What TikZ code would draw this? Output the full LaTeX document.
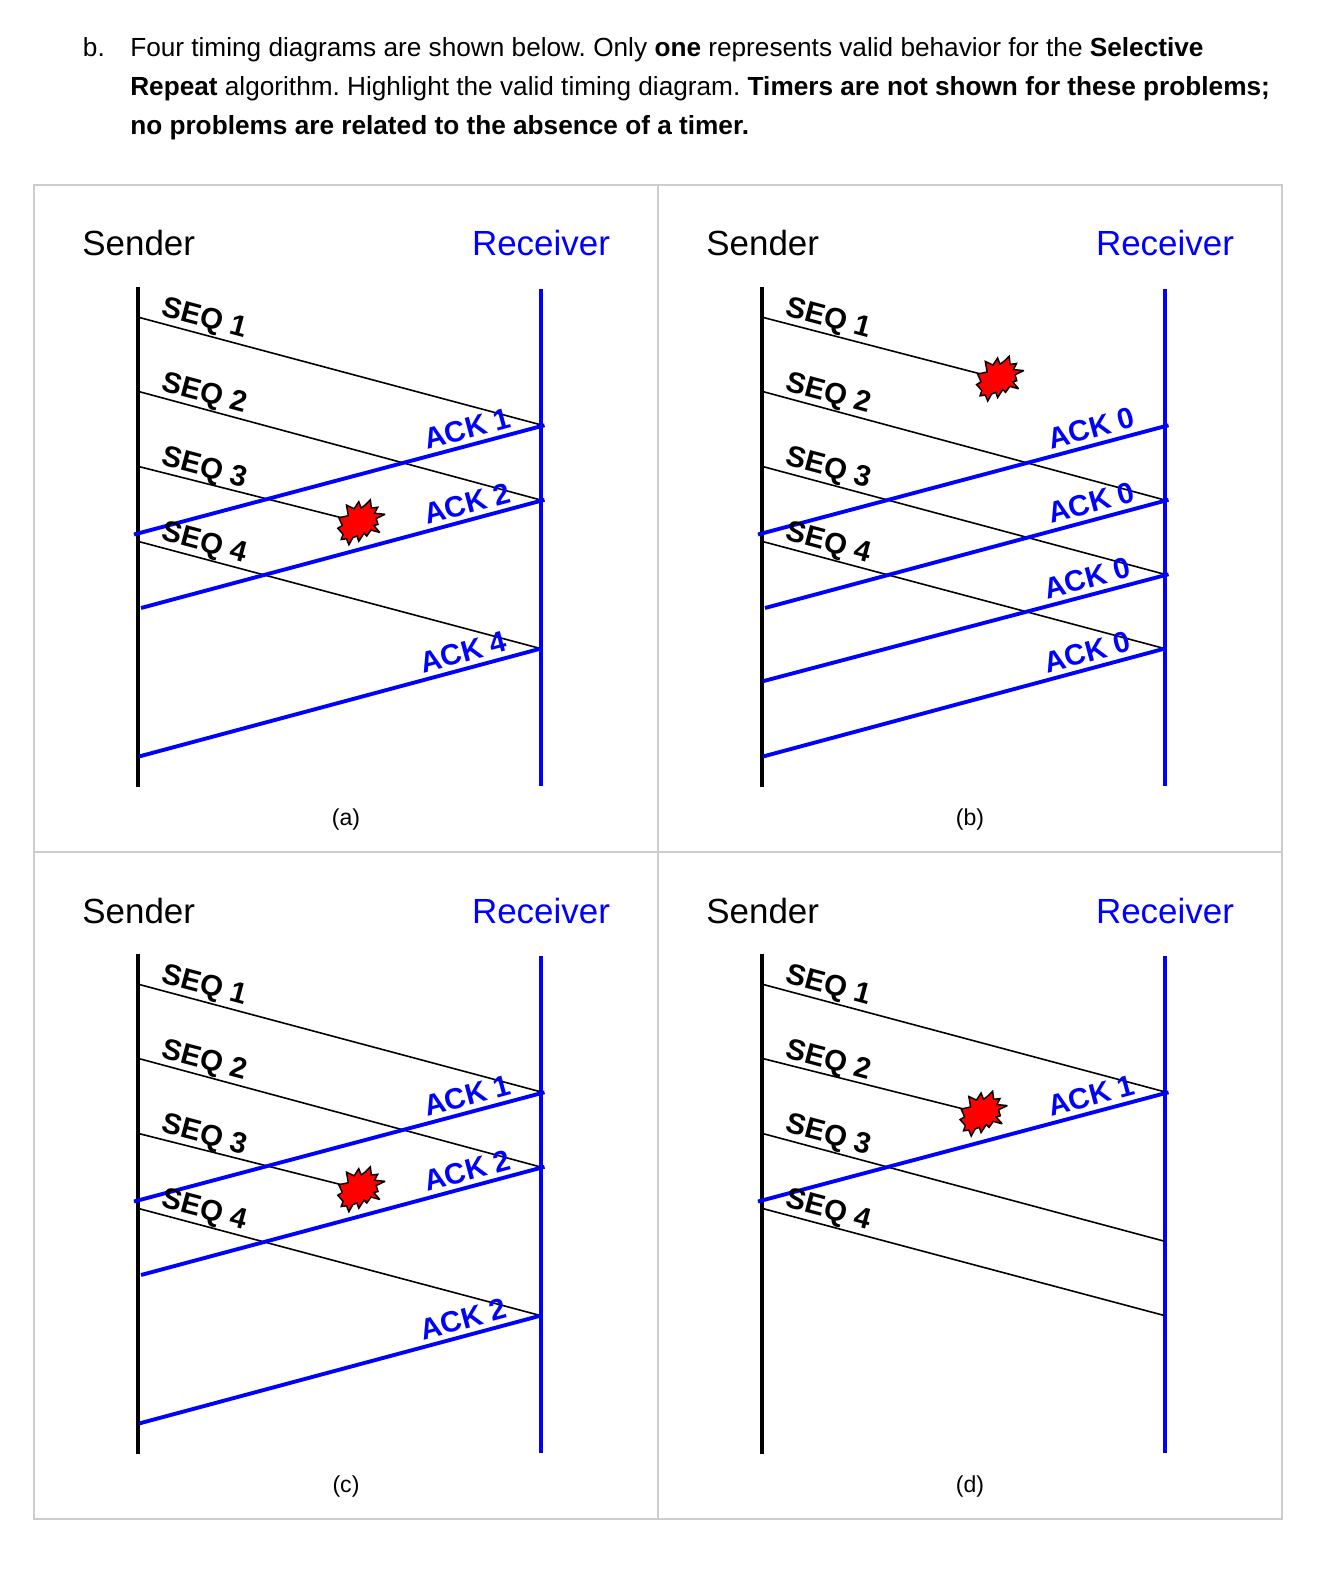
\documentclass[tikz,border=0pt]{standalone}
\usepackage{fontspec}
\setmainfont{Liberation Sans}
\usepackage{tikz}

\definecolor{framegray}{RGB}{204,204,204}
\definecolor{ackblue}{RGB}{0,0,255}
\definecolor{burstred}{RGB}{255,0,0}

\tikzset{
    sendline/.style={line width=2.7pt, black},
    recvline/.style={line width=3pt, ackblue},
    seqline/.style={line width=1.2pt, black},
    ackline/.style={line width=2.9pt, ackblue},
    seqlabel/.style={font=\bfseries\fontsize{22}{22}\selectfont, rotate=-15, inner sep=0pt},
    acklabel/.style={font=\bfseries\fontsize{22}{22}\selectfont, ackblue, rotate=15, inner sep=0pt},
    endlabel/.style={font=\fontsize{26.2}{27}\selectfont, anchor=base, inner sep=0pt},
    caption/.style={font=\fontsize{17.3}{18}\selectfont, inner sep=0pt},
    intro/.style={font=\frenchspacing\fontsize{19.65}{21}\selectfont, anchor=base west, inner sep=0pt},
    burst/.pic={
        \draw[scale=1.05, line width=1.1pt, fill=burstred, line join=miter, miter limit=3]
            (8.7,-21.7) -- (9.7,-14) -- (15.7,-14.7) -- (12.7,-9) -- (22.7,-8) -- (14.3,-4)
            -- (16,1.7) -- (12,2.7) -- (17.7,9.3) -- (9.3,7) -- (5.3,12.7) -- (2.7,10)
            -- (-2.3,17.7) -- (-4,12.7) -- (-8,14.3) -- (-11.7,21) -- (-14,15.3) -- (-19,16)
            -- (-17.3,11) -- (-22.3,5.3) -- (-18,2.7) -- (-21.3,-4.7) -- (-12.3,-6.7)
            -- (-14,-16.7) -- (-6.7,-13.3) -- (-2.3,-20) -- (0,-14) -- (4.3,-17.3) -- cycle;
    },
}

% Lifelines, titles and end points shared by all four panels
\newcommand{\panelbase}[2]{
    \node[endlabel] (#1-sender) at (138.7,256) {Sender};
    \node[endlabel, ackblue] (#1-receiver) at (541,256) {Receiver};
    \node[caption] (#1-caption) at (346,819.5) {#2};
    \coordinate (#1-stop) at (137.7,286.7);
    \coordinate (#1-sbot) at (137.7,786.7);
    \coordinate (#1-rtop) at (540.7,289.3);
    \coordinate (#1-rbot) at (540.7,785.7);
    \draw[sendline] (#1-stop) -- (#1-sbot);
    \draw[recvline] (#1-rtop) -- (#1-rbot);
    \foreach \i/\ys/\ye in {1/317.4/424.8, 2/391.6/500, 3/466.6/574.3, 4/541.6/648.6} {
        \coordinate (#1-s\i) at (139,\ys);
        \coordinate (#1-r\i) at (540.7,\ye);
    }
    \coordinate (#1-t1) at (134,534.5);
    \coordinate (#1-t2) at (141,608);
    \coordinate (#1-t3) at (139,681.2);
    \coordinate (#1-t4) at (139,756.5);
    \coordinate (#1-e1) at (544.5,425.3);
    \coordinate (#1-e2) at (544.5,499.8);
    \coordinate (#1-e3) at (544.5,574.3);
    \coordinate (#1-e4) at (540.7,648.6);
}
\newcommand{\seqlabels}[1]{
    \foreach \i/\ys in {1/319.5, 2/394.5, 3/469, 4/544} {
        \node[seqlabel] (#1-seq\i) at (204,\ys) {SEQ \i};
    }
}

\begin{document}
\begin{tikzpicture}[x=0.75pt, y=-0.75pt]
    \useasboundingbox (0,0) rectangle (1318,1594);

    % The question text
    \node[intro] (item) at (82.7,57) {b.};
    \node[intro] (line1) at (130,57) {Four timing diagrams are shown below. Only \textbf{one} represents valid behavior for the \textbf{Selective}};
    \node[intro] (line2) at (130,96) {\textbf{Repeat} algorithm. Highlight the valid timing diagram. \textbf{Timers are not shown for these problems;}};
    \node[intro] (line3) at (130,134.5) {\textbf{no problems are related to the absence of a timer.}};

    % The frame
    \draw[line width=1.5pt, framegray] (34,185) rectangle (1282.3,1518.7);
    \draw[line width=1.5pt, framegray] (658,185) -- (658,1518.7);
    \draw[line width=1.5pt, framegray] (34,852) -- (1282.3,852);

    % Panel (a)
    \begin{scope}
        \panelbase{a}{(a)}
        \coordinate (a-lost) at (361.2,522.7);
        \draw[seqline] (a-s1) -- (a-r1);
        \draw[seqline] (a-s2) -- (a-r2);
        \draw[seqline] (a-s3) -- (a-lost);
        \draw[seqline] (a-s4) -- (a-r4);
        \draw[ackline] (a-t1) -- (a-e1);
        \draw[ackline] (a-t2) -- (a-e2);
        \draw[ackline] (a-t4) -- (a-e4);
        \seqlabels{a}
        \node[acklabel] (a-ack1) at (467,428.6) {ACK 1};
        \node[acklabel] (a-ack2) at (467,503.7) {ACK 2};
        \node[acklabel] (a-ack4) at (463,652) {ACK 4};
        \pic at (a-lost) {burst};
    \end{scope}

    % Panel (b)
    \begin{scope}[shift={(624,0)}]
        \panelbase{b}{(b)}
        \coordinate (b-lost) at (376,379);
        \draw[seqline] (b-s1) -- (b-lost);
        \draw[seqline] (b-s2) -- (b-r2);
        \draw[seqline] (b-s3) -- (b-r3);
        \draw[seqline] (b-s4) -- (b-r4);
        \draw[ackline] (b-t1) -- (b-e1);
        \draw[ackline] (b-t2) -- (b-e2);
        \draw[ackline] (b-t3) -- (b-e3);
        \draw[ackline] (b-t4) -- (b-e4);
        \seqlabels{b}
        \node[acklabel] (b-ack1) at (467,428) {ACK 0};
        \node[acklabel] (b-ack2) at (467,502.5) {ACK 0};
        \node[acklabel] (b-ack3) at (463,578) {ACK 0};
        \node[acklabel] (b-ack4) at (463,652) {ACK 0};
        \pic at (b-lost) {burst};
    \end{scope}

    % Panel (c)
    \begin{scope}[shift={(0,667)}]
        \panelbase{c}{(c)}
        \coordinate (c-lost) at (361.2,522.7);
        \draw[seqline] (c-s1) -- (c-r1);
        \draw[seqline] (c-s2) -- (c-r2);
        \draw[seqline] (c-s3) -- (c-lost);
        \draw[seqline] (c-s4) -- (c-r4);
        \draw[ackline] (c-t1) -- (c-e1);
        \draw[ackline] (c-t2) -- (c-e2);
        \draw[ackline] (c-t4) -- (c-e4);
        \seqlabels{c}
        \node[acklabel] (c-ack1) at (467,428.6) {ACK 1};
        \node[acklabel] (c-ack2) at (467,503.7) {ACK 2};
        \node[acklabel] (c-ack4) at (463,652) {ACK 2};
        \pic at (c-lost) {burst};
    \end{scope}

    % Panel (d)
    \begin{scope}[shift={(624,667)}]
        \panelbase{d}{(d)}
        \coordinate (d-lost) at (359.5,447);
        \draw[seqline] (d-s1) -- (d-r1);
        \draw[seqline] (d-s2) -- (d-lost);
        \draw[seqline] (d-s3) -- (d-r3);
        \draw[seqline] (d-s4) -- (d-r4);
        \draw[ackline] (d-t1) -- (d-e1);
        \seqlabels{d}
        \node[acklabel] (d-ack1) at (467,428.6) {ACK 1};
        \pic at (d-lost) {burst};
    \end{scope}
\end{tikzpicture}
\end{document}
